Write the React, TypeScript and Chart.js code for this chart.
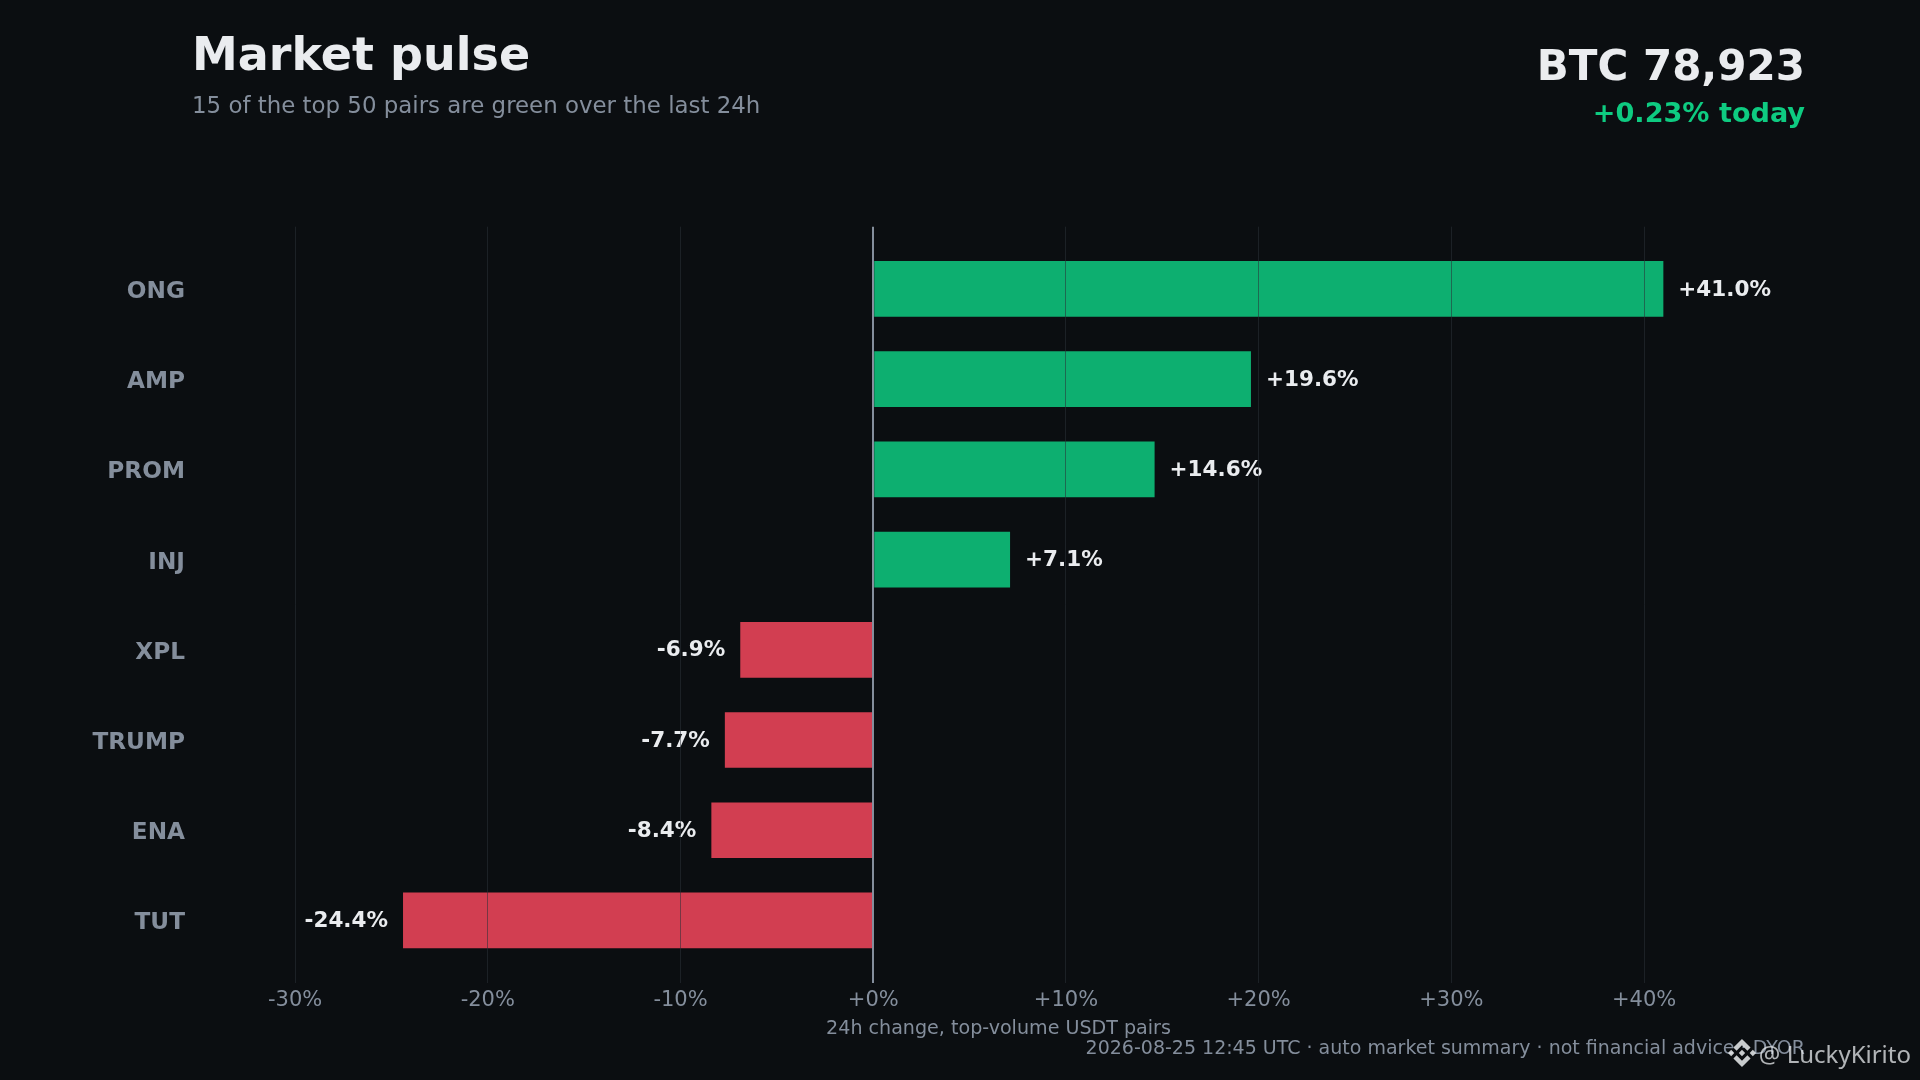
import { useEffect, useRef } from 'react';
import { Chart, registerables } from 'chart.js';

Chart.register(...registerables);

const symbols = ['ONG', 'AMP', 'PROM', 'INJ', 'XPL', 'TRUMP', 'ENA', 'TUT'];
const changes = [41.0, 19.6, 14.6, 7.1, -6.9, -7.7, -8.4, -24.4];
const xTicks = [-30, -20, -10, 0, 10, 20, 30, 40];

const FONT = '"DejaVu Sans", sans-serif';
const BG = '#0b0e11';
const TEXT = '#eaecef';
const MUTED = '#848e9c';
const GREEN = '#0ecb81';

const fmt = (v: number, digits: number) => (v >= 0 ? '+' : '') + v.toFixed(digits) + '%';

// value labels next to the bar ends
const barLabels = {
  id: 'barLabels',
  afterDatasetsDraw(chart: Chart) {
    const { ctx } = chart;
    const bars = chart.getDatasetMeta(0).data;
    ctx.save();
    ctx.font = `bold 21.5px ${FONT}`;
    ctx.fillStyle = TEXT;
    ctx.textBaseline = 'middle';
    bars.forEach((bar, i) => {
      const v = changes[i];
      ctx.textAlign = v >= 0 ? 'left' : 'right';
      ctx.fillText(fmt(v, 1), bar.x + (v >= 0 ? 15 : -15), bar.y + 1);
    });
    ctx.restore();
  },
};

const textStyle = (extra: React.CSSProperties): React.CSSProperties => ({
  position: 'absolute',
  fontFamily: FONT,
  whiteSpace: 'nowrap',
  lineHeight: 1,
  ...extra,
});

export default function App() {
  const chartRef = useRef<HTMLCanvasElement>(null);

  useEffect(() => {
    if (!chartRef.current) return;

    const chart = new Chart(chartRef.current, {
      type: 'bar',
      data: {
        datasets: [
          {
            data: changes.map((v, i) => ({ x: v, y: i })),
            backgroundColor: changes.map((v) =>
              v >= 0 ? 'rgba(14, 203, 129, 0.85)' : 'rgba(246, 70, 93, 0.85)'
            ),
            borderWidth: 0,
            barPercentage: 0.617,
            categoryPercentage: 1,
          },
        ],
      },
      options: {
        indexAxis: 'y',
        responsive: false,
        animation: false,
        devicePixelRatio: 1,
        layout: { padding: { top: 226.7, right: 115, left: 0, bottom: 0 } },
        plugins: {
          legend: { display: false },
          title: { display: false },
          tooltip: { enabled: false },
        },
        scales: {
          x: {
            type: 'linear',
            min: -35.35,
            max: 48.35,
            afterBuildTicks: (scale) => {
              scale.ticks = xTicks.map((value) => ({ value }));
            },
            afterFit: (scale) => {
              scale.height = 97.3;
            },
            border: { display: false },
            grid: {
              z: 1,
              drawTicks: false,
              color: (c) => (c.tick.value === 0 ? MUTED : 'rgba(43, 49, 57, 0.55)'),
              lineWidth: (c) => (c.tick.value === 0 ? 2 : 1),
            },
            ticks: {
              color: MUTED,
              padding: 5,
              maxRotation: 0,
              autoSkip: false,
              font: { family: FONT, size: 21 },
              callback: (v) => fmt(Number(v), 0),
            },
          },
          y: {
            type: 'linear',
            reverse: true,
            offset: false,
            min: -0.69,
            max: 7.69,
            afterBuildTicks: (scale) => {
              scale.ticks = symbols.map((_, value) => ({ value }));
            },
            afterFit: (scale) => {
              scale.width = 192;
            },
            border: { display: false },
            grid: { display: false, drawTicks: false, offset: false },
            ticks: {
              color: MUTED,
              padding: 7,
              labelOffset: 3,
              autoSkip: false,
              font: { family: FONT, size: 23.2, weight: 'bold' },
              callback: (v) => symbols[Number(v)],
            },
          },
        },
      },
      plugins: [barLabels],
    });

    return () => chart.destroy();
  }, []);

  return (
    <div style={{ position: 'fixed', left: 0, top: 0, width: 1920, height: 1080, background: BG, overflow: 'hidden' }}>
      <canvas ref={chartRef} width={1920} height={1080} style={{ display: 'block' }} />

      <div style={textStyle({ left: 192, top: 31, fontSize: 46, fontWeight: 700, color: TEXT })}>Market pulse</div>
      <div style={textStyle({ left: 192, top: 94, fontSize: 22.9, color: MUTED })}>
        15 of the top 50 pairs are green over the last 24h
      </div>
      <div style={textStyle({ right: 115, top: 45, fontSize: 42, fontWeight: 700, color: TEXT })}>BTC 78,923</div>
      <div style={textStyle({ right: 115, top: 99, fontSize: 27.1, fontWeight: 700, color: GREEN })}>+0.23% today</div>

      <div style={textStyle({ left: 998.5, top: 1018, fontSize: 19.1, color: MUTED, transform: 'translateX(-50%)' })}>
        24h change, top-volume USDT pairs
      </div>
      <div style={textStyle({ right: 115, top: 1037.5, fontSize: 19, color: MUTED })}>
        2026-08-25 12:45 UTC · auto market summary · not financial advice · DYOR
      </div>

      <svg viewBox="0 0 24 24" width={28} height={28} style={{ position: 'absolute', left: 1728, top: 1039 }}>
        <path
          fill="rgba(234,236,239,0.85)"
          d="M16.624 13.9202l2.7175 2.7154-7.353 7.353-7.353-7.352 2.7175-2.7164 4.6355 4.6595 4.6356-4.6595zm4.6366-4.6366L24 12l-2.7154 2.7164L18.5682 12l2.6924-2.7164zm-9.272.001l2.7163 2.6914-2.7164 2.7174v-.001L9.2721 12l2.7164-2.7154zm-9.2722-.001L5.4088 12l-2.6914 2.6924L0 12l2.7164-2.7164zM11.9885.0115l7.353 7.329-2.7174 2.7154-4.6356-4.6356-4.6355 4.6595-2.7174-2.7154 7.353-7.353z"
        />
      </svg>
      <div style={textStyle({ right: 9, top: 1042, fontFamily: '"Noto Sans", sans-serif', fontSize: 24, color: 'rgba(234,236,239,0.75)' })}>
        @ LuckyKirito
      </div>
    </div>
  );
}
